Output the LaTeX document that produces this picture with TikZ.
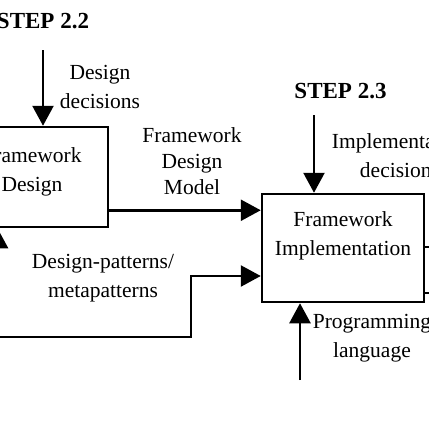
\documentclass[tikz,border=0pt]{standalone}
\usepackage{fontspec}
\setmainfont{Liberation Serif}
\usetikzlibrary{arrows.meta}
\tikzset{
  lbl/.style={anchor=base, align=center, inner sep=0pt, font=\fontsize{21.5}{28.5}\selectfont},
  steplbl/.style={anchor=base, inner sep=0pt, font=\fontsize{23}{28}\selectfont\bfseries},
  procbox/.style={draw, line width=2.5pt, inner sep=0pt},
  arr/.style={line width=2.5pt, -{Triangle[length=20pt,width=21pt]}},
  ln/.style={line width=2.5pt}
}
\begin{document}
\begin{tikzpicture}[x=1pt,y=-1pt]
\fill[white] (0,0) rectangle (429,429);
\clip (0,0) rectangle (429,429);
\useasboundingbox (0,0) rectangle (429,429);
% boxes
\node[procbox, minimum width=152pt, minimum height=100pt] (fd) at (32,177) {};
\node[procbox, minimum width=162pt, minimum height=108pt] (fi) at (343,248) {};
% labels (anchor = baseline of the last line)
\node[steplbl] (s22) at (43,28) {STEP 2.2};
\node[steplbl] (s23) at (340.5,98) {STEP 2.3};
\node[lbl] (ddl) at (100,108) {Design\\decisions};
\node[lbl] (fdl) at (32,191) {Framework\\Design};
\node[lbl, font=\fontsize{21.5}{26}\selectfont] (fdml) at (192,194) {Framework\\Design\\Model};
\node[lbl] (idl) at (400,177) {Implementation\\decisions};
\node[lbl] (fil) at (343,255) {Framework\\Implementation};
\node[lbl] (dpl) at (103,297) {Design-patterns/\\metapatterns};
\node[lbl] (pll) at (372,357) {Programming\\language};
% connectors
\coordinate (dd) at (43,50);
\draw[arr] (dd) -- (dd |- fd.north);
\coordinate (id) at (314,115);
\draw[arr] (id) -- (id |- fi.north);
\coordinate (pl) at (300,380);
\draw[arr] (pl) -- (pl |- fi.south);
\coordinate (fb) at (-2.5,330);
\draw[arr] (fb) -- (fb |- fd.south);
\draw[arr] ([yshift=18pt]fd.south east) coordinate (m1) -- (m1 -| fi.west);
\coordinate (dp) at (-10,337);
\draw[arr] (dp) -| ([xshift=-70pt,yshift=-28pt]fi.west) -- ([yshift=-28pt]fi.west);
\coordinate (o1) at (440,247);
\coordinate (o2) at (440,293);
\draw[ln] (fi.east |- o1) -- (o1);
\draw[ln] (fi.east |- o2) -- (o2);
\end{tikzpicture}
\end{document}
